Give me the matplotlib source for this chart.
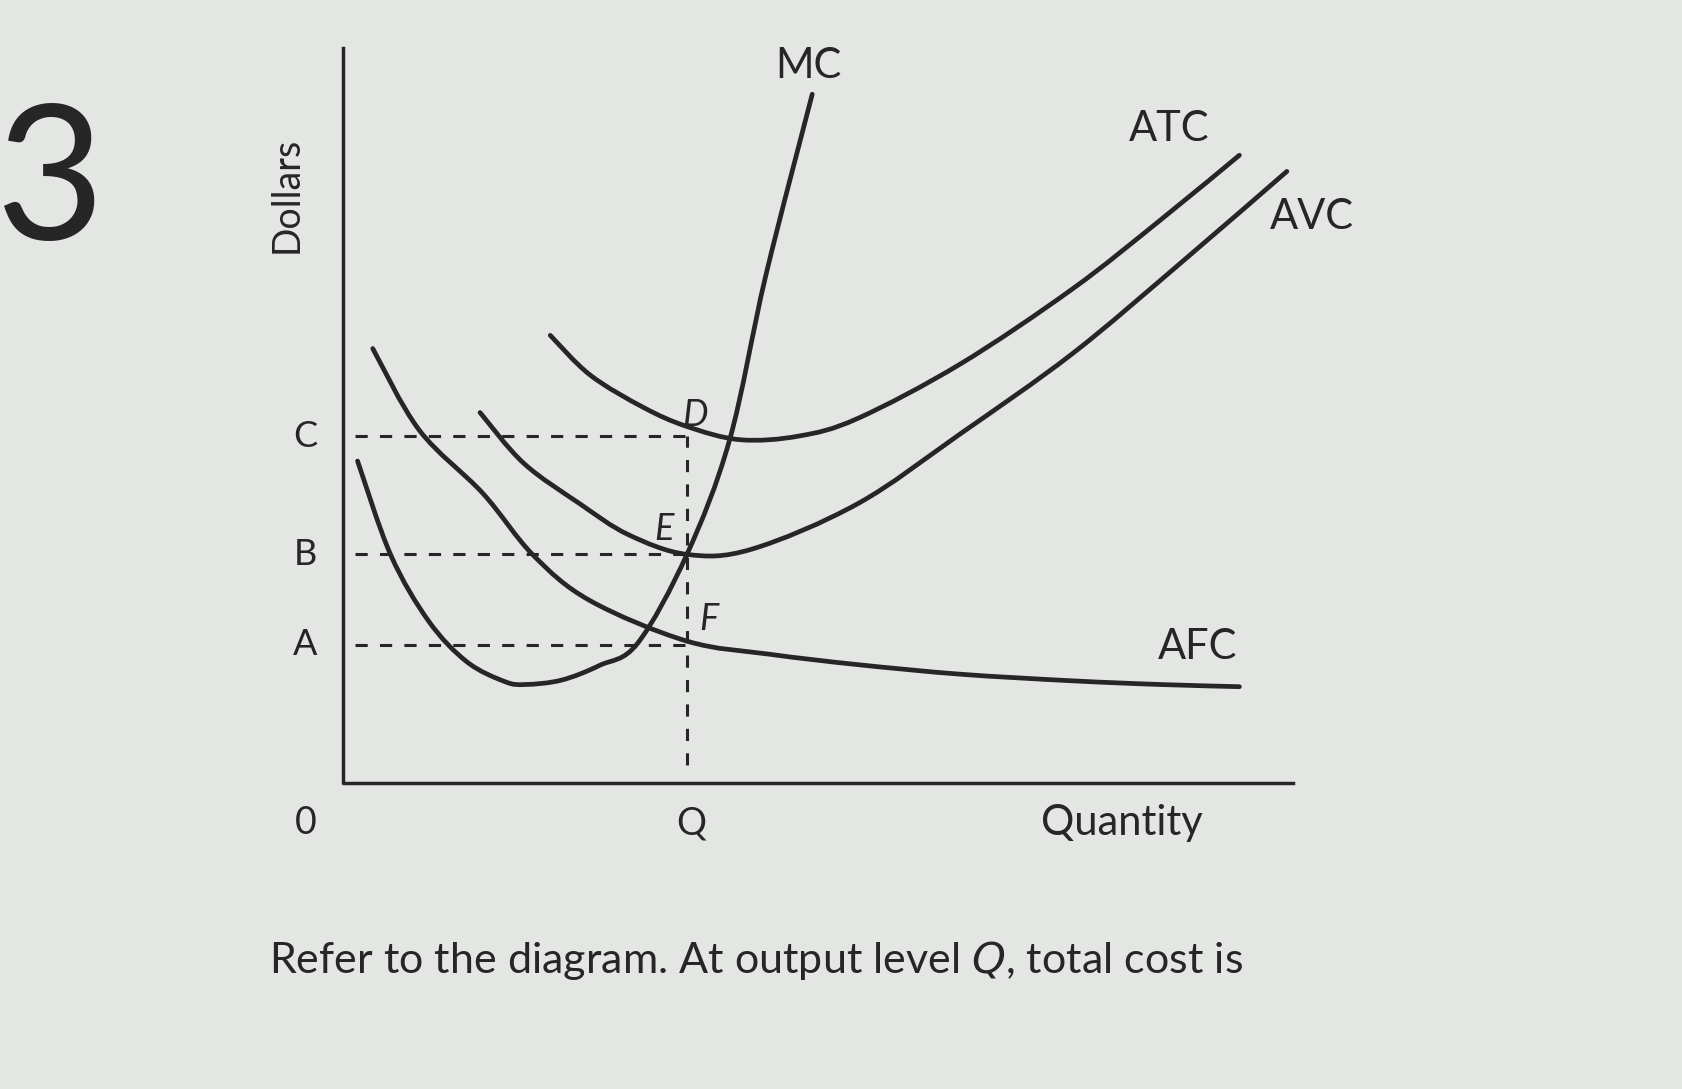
import matplotlib
matplotlib.use('Agg')
import matplotlib.pyplot as plt
import numpy as np
from matplotlib.path import Path
from matplotlib.patches import PathPatch

plt.rcParams['font.family'] = ['Lato', 'DejaVu Sans']

# (quantity 0..10, dollars 0..10)
mc_q = [0.15, 0.5, 0.9, 1.3, 1.7, 1.92, 2.3, 2.7, 3.1, 3.62, 4.07, 4.45, 4.94]
mc_d = [4.38, 3.1, 2.2, 1.65, 1.38, 1.34, 1.4, 1.6, 1.9, 3.11, 4.67, 6.9, 9.37]
atc_q = [2.18, 2.6, 3.16, 3.62, 4.18, 4.8, 5.42, 6.5, 7.68, 8.6, 9.44]
atc_d = [6.09, 5.55, 5.11, 4.85, 4.67, 4.72, 4.96, 5.7, 6.72, 7.65, 8.54]
avc_q = [1.44, 1.9, 2.49, 3.0, 3.62, 4.3, 5.42, 6.5, 7.68, 8.8, 9.94]
avc_d = [5.04, 4.35, 3.80, 3.38, 3.11, 3.18, 3.80, 4.75, 5.84, 7.05, 8.32]
afc_q = [0.31, 0.8, 1.47, 2.0, 2.6, 3.62, 4.5, 5.42, 6.5, 7.68, 8.6, 9.44]
afc_d = [5.91, 4.8, 3.94, 3.1, 2.48, 1.93, 1.75, 1.61, 1.48, 1.39, 1.34, 1.31]

q_level = 3.62
levels = {'C': 4.72, 'B': 3.11, 'A': 1.88}

ink = '#262626'


def smooth_path(xs, ys):
    """Catmull-Rom through the read points, drawn as cubic Bezier segments."""
    p = np.column_stack([xs, ys]).astype(float)
    p = np.vstack([p[0], p, p[-1]])
    verts = [p[1]]
    codes = [Path.MOVETO]
    for i in range(1, len(p) - 2):
        c1 = p[i] + (p[i + 1] - p[i - 1]) / 6
        c2 = p[i + 1] - (p[i + 2] - p[i]) / 6
        verts += [c1, c2, p[i + 1]]
        codes += [Path.CURVE4] * 3
    return Path(verts, codes)


fig = plt.figure(figsize=(16.83, 10.89), dpi=100, facecolor='#e4e6e4')
ax = fig.add_axes([0.204, 0.281, 0.564, 0.675])
ax.set_xlim(0, 10)
ax.set_ylim(0, 10)
ax.axis('off')

ax.plot([0, 0, 10], [10, 0, 0], color=ink, lw=2.5, clip_on=False)
for q, d in [(mc_q, mc_d), (atc_q, atc_d), (avc_q, avc_d), (afc_q, afc_d)]:
    ax.add_patch(PathPatch(smooth_path(q, d), fill=False, edgecolor=ink, lw=3.4,
                           capstyle='round', clip_on=False))

for name, v in levels.items():
    ax.plot([0.12, q_level], [v, v], color=ink, lw=2.2, ls=(0, (4, 4)))
    ax.text(-0.4, v, name, fontsize=26, ha='center', va='center', color=ink)
ax.plot([q_level, q_level], [0.25, levels['C']], color=ink, lw=2.2, ls=(0, (4, 4)))

fs = 30
ax.text(4.9, 9.75, 'MC', fontsize=fs, ha='center', va='center', color=ink)
ax.text(8.7, 8.9, 'ATC', fontsize=fs, ha='center', va='center', color=ink)
ax.text(10.2, 7.7, 'AVC', fontsize=fs, ha='center', va='center', color=ink)
ax.text(9.0, 1.85, 'AFC', fontsize=fs, ha='center', va='center', color=ink)
ax.text(3.7, 5.0, 'D', fontsize=26, style='italic', ha='center', va='center', color=ink)
ax.text(3.38, 3.45, 'E', fontsize=26, style='italic', ha='center', va='center', color=ink)
ax.text(3.85, 2.23, 'F', fontsize=26, style='italic', ha='center', va='center', color=ink)

ax.text(-0.4, -0.55, '0', fontsize=27, ha='center', va='center', color=ink)
ax.text(q_level + 0.05, -0.55, 'Q', fontsize=27, ha='center', va='center', color=ink)
ax.text(8.2, -0.55, 'Quantity', fontsize=30, ha='center', va='center', color=ink)
ax.text(-0.6, 8.0, 'Dollars', fontsize=27, rotation=90, ha='center', va='center', color=ink)

fig.text(0.03, 0.83, '3', fontsize=135, ha='center', va='center', color=ink)
fig.text(0.16, 0.118, 'Refer to the diagram. At output level $\\mathit{Q}$, total cost is',
         fontsize=31, ha='left', va='center', color=ink)

fig.savefig('out.png', dpi=100, facecolor=fig.get_facecolor())
